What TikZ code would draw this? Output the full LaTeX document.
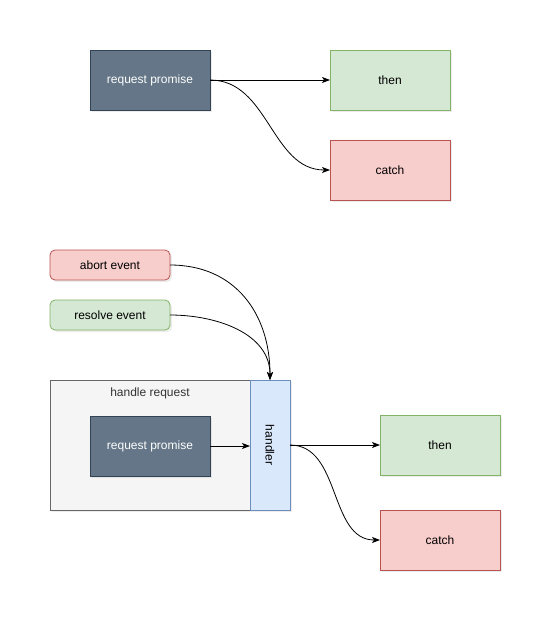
\documentclass[tikz,border=0pt]{standalone}
\usepackage{fontspec}
\setmainfont{Liberation Sans}
\usetikzlibrary{arrows.meta,shadows}
\definecolor{slatefill}{HTML}{647687}
\definecolor{slateline}{HTML}{314354}
\definecolor{greenfill}{HTML}{D5E8D4}
\definecolor{greenline}{HTML}{82B366}
\definecolor{redfill}{HTML}{F8CECC}
\definecolor{redline}{HTML}{B85450}
\definecolor{bluefill}{HTML}{DAE8FC}
\definecolor{blueline}{HTML}{6C8EBF}
\definecolor{greyfill}{HTML}{F5F5F5}
\definecolor{greyline}{HTML}{666666}
\definecolor{greytext}{HTML}{333333}
\begin{document}
\begin{tikzpicture}[x=1pt,y=-1pt,
	font=\fontsize{12}{14}\selectfont,
	box/.style={draw,line width=0.8pt,inner sep=0pt,outer sep=0pt,
		drop shadow={opacity=0.15,shadow xshift=2pt,shadow yshift=-2pt}},
	promise/.style={box,fill=slatefill,draw=slateline,text=white,minimum width=120pt,minimum height=60pt},
	thenbox/.style={box,fill=greenfill,draw=greenline,minimum width=120pt,minimum height=60pt},
	catchbox/.style={box,fill=redfill,draw=redline,minimum width=120pt,minimum height=60pt},
	eventbox/.style={box,rounded corners=5pt,minimum width=120pt,minimum height=30pt},
	link/.style={line width=0.8pt,-{Stealth[length=8pt,width=6pt,inset=2pt]}}]
	\useasboundingbox (0,0) rectangle (557,627);
	% first case
	\node[promise] (RP1) at (150,80) {request promise};
	\node[thenbox] (T1) at (390,80) {then};
	\node[catchbox] (C1) at (390,170) {catch};
	\draw[link] (RP1.east) to (T1.west);
	\draw[link] (RP1.east) to[out=0,in=180] (C1.west);
	% second case
	\node[eventbox,fill=redfill,draw=redline] (AE) at (110,265) {abort event};
	\node[eventbox,fill=greenfill,draw=greenline] (RE) at (110,315) {resolve event};
	\node[box,fill=greyfill,draw=greyline,minimum width=200pt,minimum height=130pt] (HR) at (150,445) {};
	\node[text=greytext] (HRT) at (150,393) {handle request};
	\node[box,fill=bluefill,draw=blueline,minimum width=40pt,minimum height=130pt] (H) at (270,445) {\rotatebox{-90}{handler}};
	\node[promise] (RP2) at (150,446) {request promise};
	\node[thenbox] (T2) at (440,445) {then};
	\node[catchbox] (C2) at (440,540) {catch};
	\draw[link] (AE.east) to[out=0,in=90,looseness=1.1] (H.north);
	\draw[link] (RE.east) to[out=0,in=90] (H.north);
	\draw[link] (RP2.east) to (RP2.east -| H.west);
	\draw[link] (H.east) to (T2.west);
	\draw[link] (H.east) to[out=0,in=180] (C2.west);
\end{tikzpicture}
\end{document}
